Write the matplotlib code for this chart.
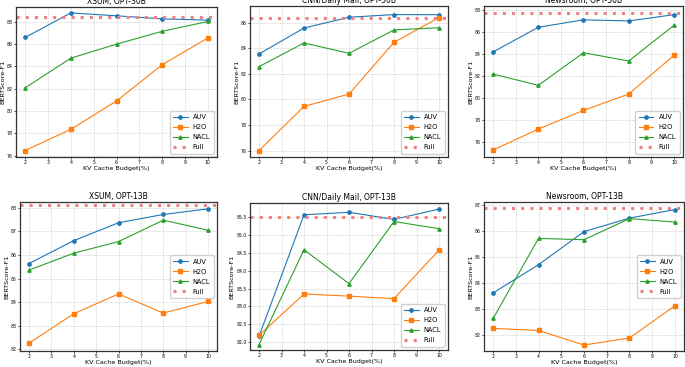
import matplotlib
matplotlib.use("Agg")
import matplotlib.pyplot as plt

budgets = [2, 4, 6, 8, 10]

titles = ["XSUM, OPT-30B", "CNN/Daily Mail, OPT-30B", "Newsroom, OPT-30B",
          "XSUM, OPT-13B", "CNN/Daily Mail, OPT-13B", "Newsroom, OPT-13B"]

auv = [
    [86.6, 88.8, 88.54, 88.27, 88.15],
    [83.55, 85.58, 86.42, 86.63, 86.62],
    [84.17, 86.42, 87.1, 87.0, 87.57],
    [85.64, 86.61, 87.37, 87.72, 87.96],
    [82.16, 85.57, 85.64, 85.44, 85.73],
    [83.63, 84.72, 85.99, 86.51, 86.84],
]
h2o = [
    [76.46, 78.36, 80.9, 84.16, 86.55],
    [76.0, 79.45, 80.42, 84.46, 86.39],
    [75.23, 77.15, 78.85, 80.34, 83.87],
    [82.26, 83.51, 84.35, 83.54, 84.03],
    [82.19, 83.35, 83.29, 83.22, 84.58],
    [82.27, 82.19, 81.63, 81.9, 83.14],
]
nacl = [
    [82.08, 84.74, 86.0, 87.15, 88.03],
    [82.56, 84.41, 83.6, 85.43, 85.6],
    [82.16, 81.13, 84.1, 83.35, 86.6],
    [85.36, 86.08, 86.57, 87.48, 87.05],
    [81.93, 84.59, 83.64, 85.38, 85.18],
    [82.65, 85.73, 85.68, 86.49, 86.36],
]
full = [88.42, 86.34, 87.7, 88.13, 85.5, 86.9]

ylims = [(75.88, 89.33), (75.5, 87.3), (74.6, 88.36),
         (81.93, 88.25), (81.78, 85.9), (81.4, 87.13)]
yticks = [list(range(76, 89, 2)), list(range(76, 87, 2)), list(range(76, 89, 2)),
          list(range(82, 89, 1)), [82.0, 82.5, 83.0, 83.5, 84.0, 84.5, 85.0, 85.5],
          list(range(82, 88, 1))]
legend_locs = ["lower right", "lower right", "lower right",
               "center right", "lower right", "center right"]

W, H = 685, 367
# pixel boxes: (x0, x1, ytop, ybottom)
boxes = [(16, 217, 7, 157), (250, 448, 6, 157), (484, 683, 6, 157),
         (20, 217, 202, 351), (250, 448, 203, 350), (484, 684, 202, 351)]

fig = plt.figure(figsize=(W / 100, H / 100), dpi=100)

for i in range(6):
    x0, x1, yt, yb = boxes[i]
    ax = fig.add_axes([x0 / W, (H - yb) / H, (x1 - x0) / W, (yb - yt) / H])
    ax.plot(budgets, auv[i], color="tab:blue", marker="o", markersize=2.4, linewidth=0.8, label="AUV")
    ax.plot(budgets, h2o[i], color="tab:orange", marker="s", markersize=2.4, linewidth=0.8, label="H2O")
    ax.plot(budgets, nacl[i], color="tab:green", marker="^", markersize=2.4, linewidth=0.8, label="NACL")
    ax.axhline(full[i], color="#f08080", linestyle=(0, (1, 2)), linewidth=2.2, label="Full")
    ax.set_xlim(1.6, 10.4)
    ax.set_ylim(*ylims[i])
    ax.set_xticks(list(range(2, 11)))
    ax.set_yticks(yticks[i])
    ax.tick_params(labelsize=3.3, length=1.5, width=0.5, pad=1)
    ax.grid(True, linestyle="--", linewidth=0.4, color="#cccccc")
    for s in ax.spines.values():
        s.set_linewidth(0.9)
        s.set_color("#333333")
    ax.set_title(titles[i], fontsize=5.5, pad=2.5)
    ax.set_xlabel("KV Cache Budget(%)", fontsize=4.6, labelpad=0.5)
    ax.set_ylabel("BERTScore-F1", fontsize=4.6, labelpad=1)
    ax.legend(loc=legend_locs[i], fontsize=4.8, handlelength=2.2, borderpad=0.5,
              labelspacing=0.6, framealpha=0.9)

fig.savefig("out.png", dpi=100)
